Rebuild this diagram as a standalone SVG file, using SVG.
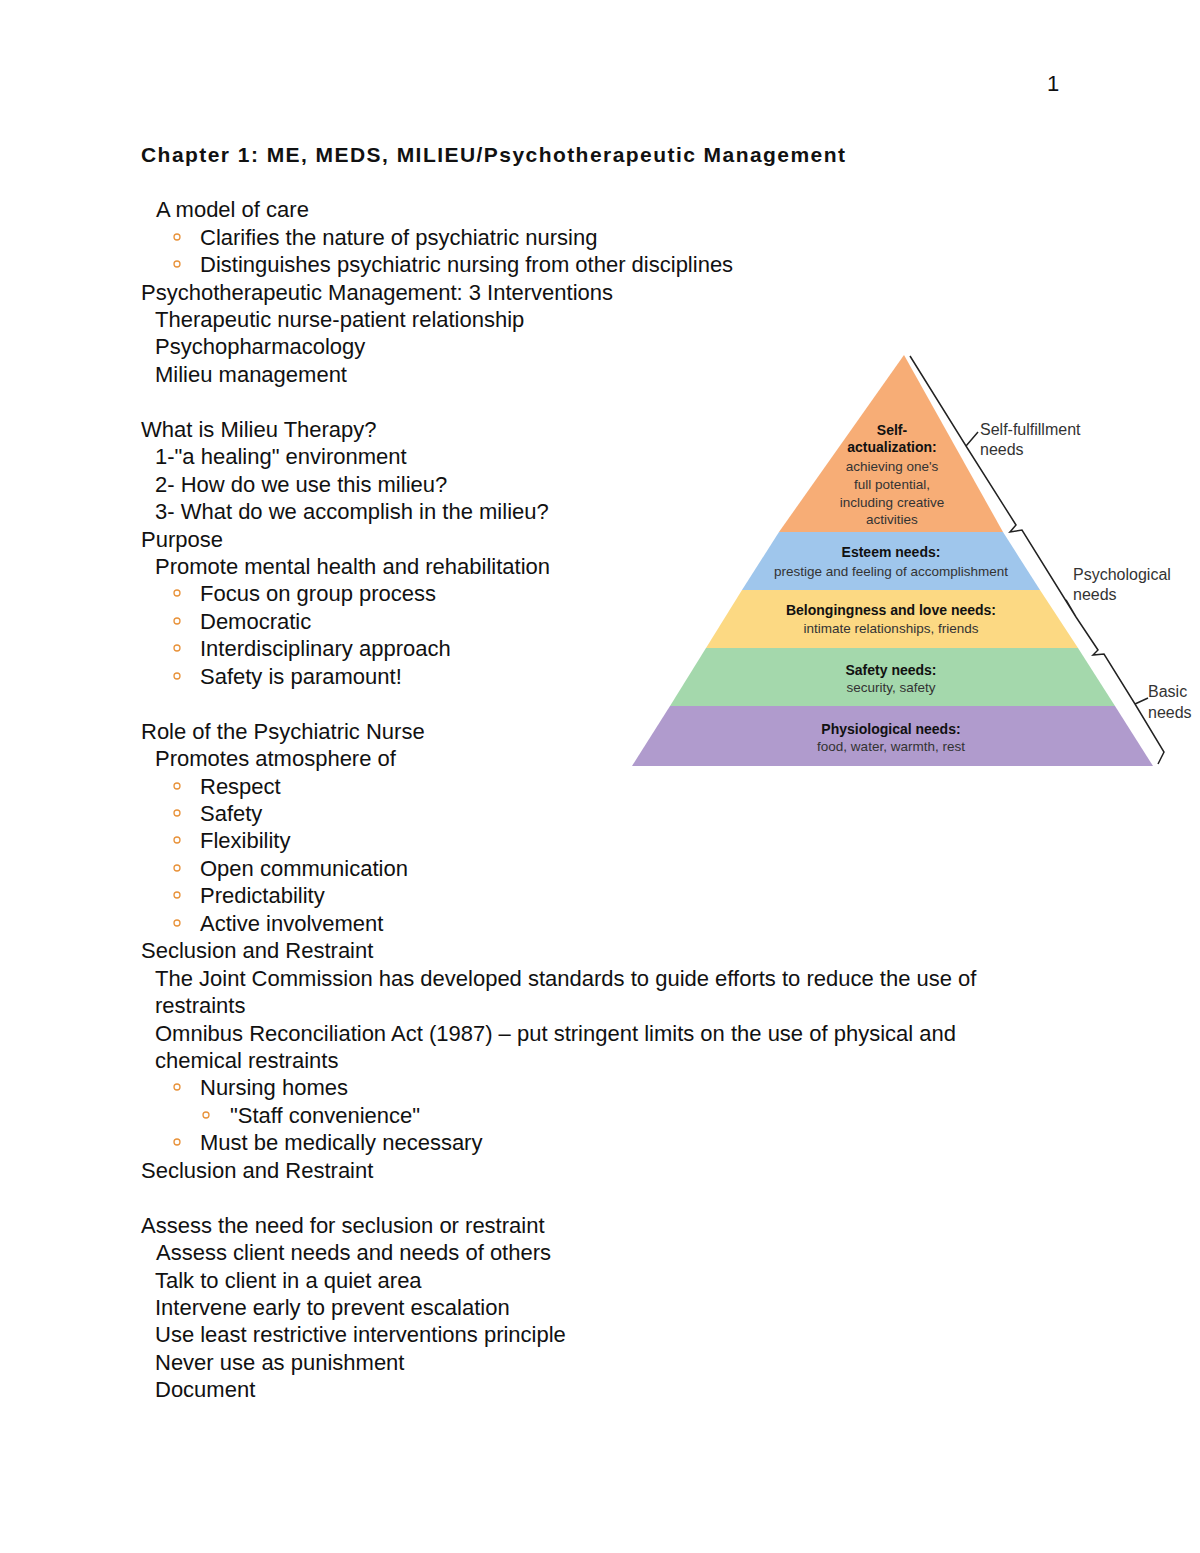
<svg xmlns="http://www.w3.org/2000/svg" width="1200" height="1553" viewBox="0 0 1200 1553">
<style>
text{font-family:"Liberation Sans",Arial,sans-serif;fill:#111}
.b{font-size:22px}
.t{font-size:21px;font-weight:bold}
.bl{fill:none;stroke:#e8923a;stroke-width:1.3}
.pb{font-size:14px;font-weight:bold;text-anchor:middle}
.pn{font-size:13.5px;text-anchor:middle;fill:#333}
.lb{font-size:16px;fill:#333}
</style>
<rect width="1200" height="1553" fill="#fff"/>
<text class="b" x="1047" y="91">1</text>
<text class="t" x="141" y="162" textLength="704">Chapter 1: ME, MEDS, MILIEU/Psychotherapeutic Management</text>
<g class="b">
<text class="b" x="156" y="217">A model of care</text>
<text class="b" x="200" y="245">Clarifies the nature of psychiatric nursing</text>
<text class="b" x="200" y="272">Distinguishes psychiatric nursing from other disciplines</text>
<text class="b" x="141" y="300">Psychotherapeutic Management: 3 Interventions</text>
<text class="b" x="155" y="327">Therapeutic nurse-patient relationship</text>
<text class="b" x="155" y="354">Psychopharmacology</text>
<text class="b" x="155" y="382">Milieu management</text>
<text class="b" x="141" y="437">What is Milieu Therapy?</text>
<text class="b" x="155" y="464">1-"a healing" environment</text>
<text class="b" x="155" y="492">2- How do we use this milieu?</text>
<text class="b" x="155" y="519">3- What do we accomplish in the milieu?</text>
<text class="b" x="141" y="547">Purpose</text>
<text class="b" x="155" y="574">Promote mental health and rehabilitation</text>
<text class="b" x="200" y="601">Focus on group process</text>
<text class="b" x="200" y="629">Democratic</text>
<text class="b" x="200" y="656">Interdisciplinary approach</text>
<text class="b" x="200" y="684">Safety is paramount!</text>
<text class="b" x="141" y="739">Role of the Psychiatric Nurse</text>
<text class="b" x="155" y="766">Promotes atmosphere of</text>
<text class="b" x="200" y="794">Respect</text>
<text class="b" x="200" y="821">Safety</text>
<text class="b" x="200" y="848">Flexibility</text>
<text class="b" x="200" y="876">Open communication</text>
<text class="b" x="200" y="903">Predictability</text>
<text class="b" x="200" y="931">Active involvement</text>
<text class="b" x="141" y="958">Seclusion and Restraint</text>
<text class="b" x="155" y="986">The Joint Commission has developed standards to guide efforts to reduce the use of</text>
<text class="b" x="155" y="1013">restraints</text>
<text class="b" x="155" y="1041">Omnibus Reconciliation Act (1987) – put stringent limits on the use of physical and</text>
<text class="b" x="155" y="1068">chemical restraints</text>
<text class="b" x="200" y="1095">Nursing homes</text>
<text class="b" x="230" y="1123">"Staff convenience"</text>
<text class="b" x="200" y="1150">Must be medically necessary</text>
<text class="b" x="141" y="1178">Seclusion and Restraint</text>
<text class="b" x="141" y="1233">Assess the need for seclusion or restraint</text>
<text class="b" x="156" y="1260">Assess client needs and needs of others</text>
<text class="b" x="155" y="1288">Talk to client in a quiet area</text>
<text class="b" x="155" y="1315">Intervene early to prevent escalation</text>
<text class="b" x="155" y="1342">Use least restrictive interventions principle</text>
<text class="b" x="155" y="1370">Never use as punishment</text>
<text class="b" x="155" y="1397">Document</text>
</g>
<g id="bullets">
<circle class="bl" cx="177" cy="237" r="3"/><circle class="bl" cx="177" cy="264" r="3"/>
<circle class="bl" cx="177" cy="593" r="3"/><circle class="bl" cx="177" cy="621" r="3"/><circle class="bl" cx="177" cy="648" r="3"/><circle class="bl" cx="177" cy="676" r="3"/>
<circle class="bl" cx="177" cy="786" r="3"/><circle class="bl" cx="177" cy="813" r="3"/><circle class="bl" cx="177" cy="840" r="3"/><circle class="bl" cx="177" cy="868" r="3"/><circle class="bl" cx="177" cy="895" r="3"/><circle class="bl" cx="177" cy="923" r="3"/>
<circle class="bl" cx="177" cy="1087" r="3"/><circle class="bl" cx="206" cy="1115" r="3"/><circle class="bl" cx="177" cy="1142" r="3"/>
</g>
<g id="pyramid">
<polygon points="904,355 1003,532 779,532" fill="#f7ad76"/>
<polygon points="779,532 1003,532 1040,590 742,590" fill="#9fc6ec"/>
<polygon points="742,590 1040,590 1078,648 706,648" fill="#fcd983"/>
<polygon points="706,648 1078,648 1115,706 670,706" fill="#a4d8ac"/>
<polygon points="670,706 1115,706 1153,766 632,766" fill="#b09bcd"/>
<text class="pb" x="892" y="435">Self-</text>
<text class="pb" x="892" y="452">actualization:</text>
<text class="pn" x="892" y="471">achieving one's</text>
<text class="pn" x="892" y="489">full potential,</text>
<text class="pn" x="892" y="507">including creative</text>
<text class="pn" x="892" y="524">activities</text>
<text class="pb" x="891" y="557">Esteem needs:</text>
<text class="pn" x="891" y="576">prestige and feeling of accomplishment</text>
<text class="pb" x="891" y="615">Belongingness and love needs:</text>
<text class="pn" x="891" y="633">intimate relationships, friends</text>
<text class="pb" x="891" y="675">Safety needs:</text>
<text class="pn" x="891" y="692">security, safety</text>
<text class="pb" x="891" y="734">Physiological needs:</text>
<text class="pn" x="891" y="751">food, water, warmth, rest</text>
</g>
<g id="brackets" fill="none" stroke="#222" stroke-width="1.5">
<polyline points="910,356 966,446 978,432 966,446 1016,525 1010,532 1022,530 1076,617 1066,600 1076,617 1098,650 1093,655 1104,654 1135,704 1148,698 1135,704 1164,752 1158,764"/>
</g>
<g id="labels">
<text class="lb" x="980" y="435">Self-fulfillment</text>
<text class="lb" x="980" y="455">needs</text>
<text class="lb" x="1073" y="580">Psychological</text>
<text class="lb" x="1073" y="600">needs</text>
<text class="lb" x="1148" y="697">Basic</text>
<text class="lb" x="1148" y="718">needs</text>
</g>
</svg>
